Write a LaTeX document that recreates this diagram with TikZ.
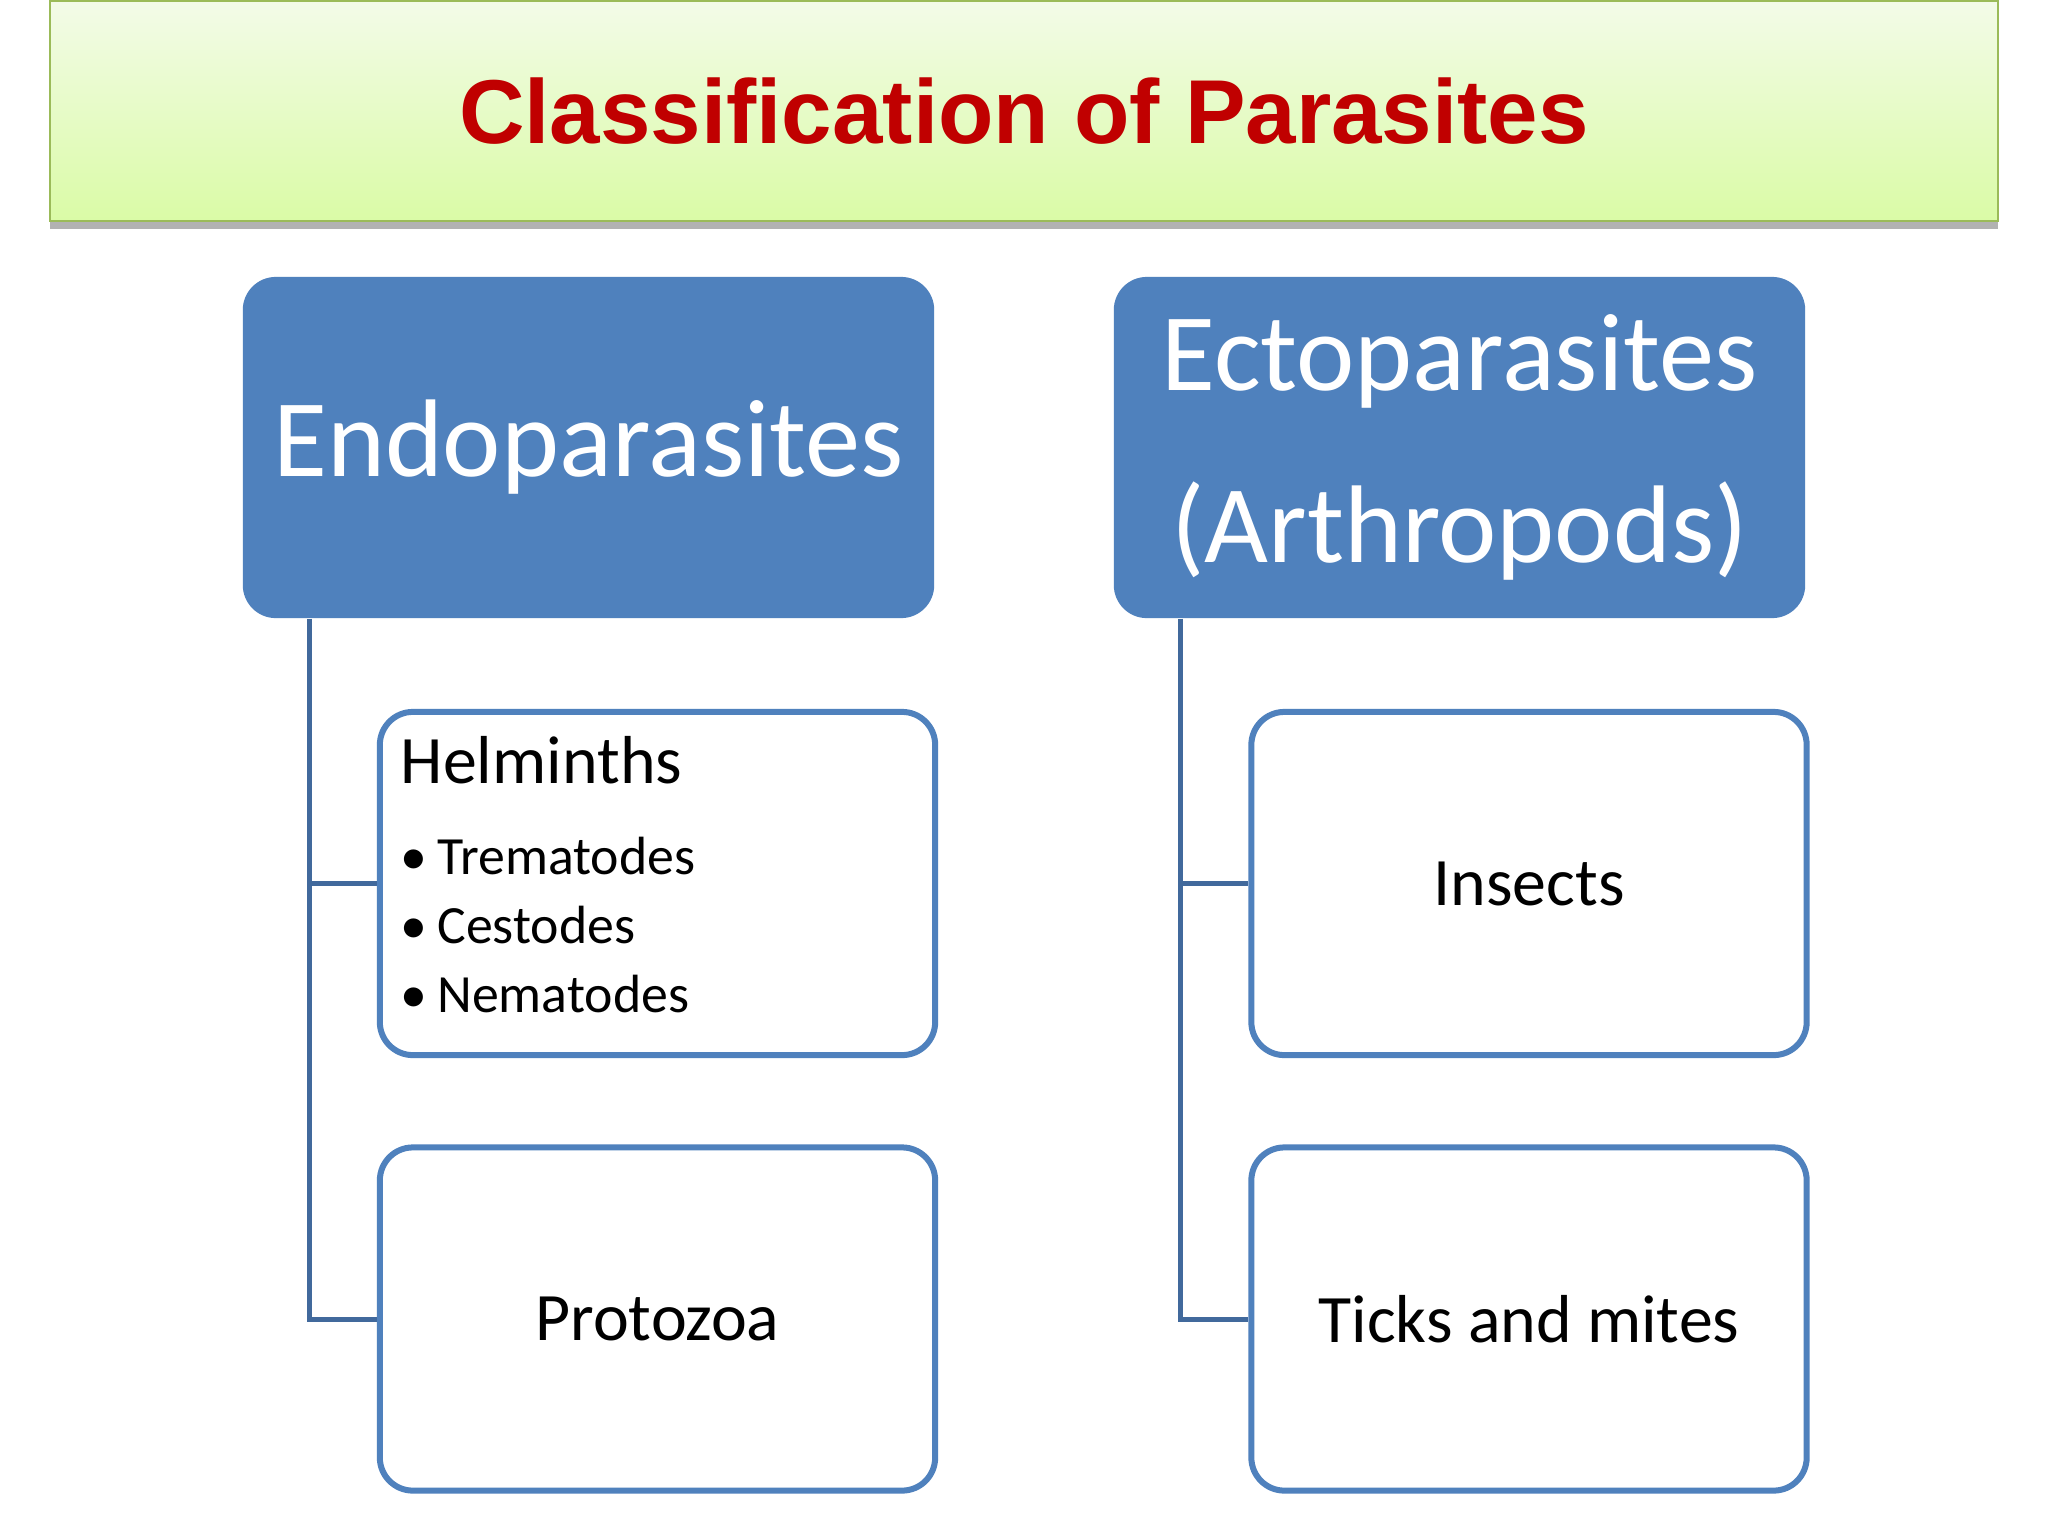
\documentclass[tikz,border=0pt]{standalone}
\usepackage{fontspec}
\setmainfont{Carlito}
\newfontfamily\titlefont{Liberation Sans}
\usetikzlibrary{calc,shadows}
\definecolor{headblue}{HTML}{4F81BD}
\definecolor{linkblue}{HTML}{41699C}
\definecolor{titlered}{HTML}{C00000}
\definecolor{barborder}{HTML}{9BBB59}
\definecolor{bartop}{HTML}{F3FBE8}
\definecolor{barbottom}{HTML}{DAFBA6}
\tikzset{
	titlebar/.style={draw=barborder, line width=0.02cm, top color=bartop, bottom color=barbottom, minimum width=19.46cm, minimum height=2.2cm, inner sep=0pt, text=titlered, font=\titlefont\bfseries\fontsize{25.8}{31}\selectfont, drop shadow={shadow xshift=0cm, shadow yshift=-0.08cm, fill=black!40, opacity=0.75}},
	headbox/.style={fill=headblue, rounded corners=0.33cm, minimum width=6.91cm, minimum height=3.41cm, inner sep=0pt, text=white, align=center, font=\fontsize{31.4}{48.8}\selectfont},
	subbox/.style={draw=headblue, line width=0.06cm, fill=white, rounded corners=0.33cm, minimum width=5.55cm, minimum height=3.43cm, inner sep=0pt, font=\fontsize{19.3}{23}\selectfont},
	link/.style={draw=linkblue, line width=0.05cm}
}
\newcommand{\bulletitem}[1]{\makebox[10.4pt][l]{•}#1}

\begin{document}
\begin{tikzpicture}[x=0.01cm, y=-0.01cm]
	\useasboundingbox[fill=white] (0,0) rectangle (2048,1536);
	
	\node[titlebar] (title) at (1024,111) {Classification of Parasites};
	
	\node[headbox] (endo) at (588.5,447.5) {Endoparasites};
	\node[headbox] (ecto) at (1459.5,447.5) {Ectoparasites\\(Arthropods)};
	
	\node[subbox, align=left, text width=5.13cm, font=\fontsize{15.3}{19.6}\selectfont] (helm) at (657.5,883.5) {{\fontsize{19.3}{23}\selectfont Helminths}\\[6.1pt]\bulletitem{Trematodes}\\\bulletitem{Cestodes}\\\bulletitem{Nematodes}\rule[-5.2pt]{0pt}{0pt}};
	\node[subbox] (proto) at (657.5,1319) {Protozoa};
	\node[subbox] (insects) at (1529,883.5) {Insects};
	\node[subbox] (ticks) at (1529,1319) {Ticks and mites};
	
	\coordinate (endoroot) at ($(endo.south west)+(67,0)$);
	\coordinate (ectoroot) at ($(ecto.south west)+(67,0)$);
	\draw[link] (endoroot) |- (helm.west);
	\draw[link] (endoroot) |- (proto.west);
	\draw[link] (ectoroot) |- (insects.west);
	\draw[link] (ectoroot) |- (ticks.west);
\end{tikzpicture}
\end{document}
